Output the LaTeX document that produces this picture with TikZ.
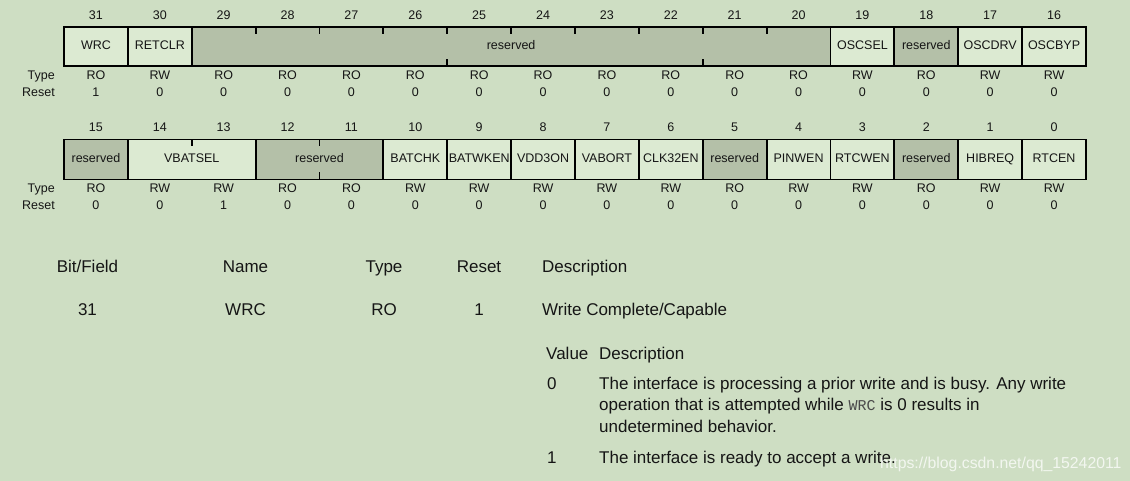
\documentclass[tikz,border=0pt]{standalone}
\usepackage{fontspec}
\setmainfont{Liberation Sans}
\setmonofont{Liberation Mono}
\usetikzlibrary{calc}
\definecolor{bg}{HTML}{CEDEC3}
\definecolor{cellfill}{HTML}{DCEAD2}
\definecolor{resfill}{HTML}{B4C0A8}
\definecolor{ink}{HTML}{151515}
\definecolor{monoink}{HTML}{4A4A4A}
\newcommand\regfont{\fontsize{12.5}{14}\selectfont}
\newcommand\tblfont{\fontsize{17}{20}\selectfont}
\tikzset{
  field/.style={draw=black, line width=1.8pt, inner sep=0pt, outer sep=0pt,
    minimum height=39pt, text height=9pt, text depth=3pt, font=\regfont, text=ink, anchor=north west},
  regtick/.style={line width=1.8pt},
  lbl/.style={inner sep=0pt, anchor=base, font=\regfont, text=ink},
  lblR/.style={lbl, anchor=base east},
  tbl/.style={inner sep=0pt, anchor=base, font=\tblfont, text=ink},
  tblL/.style={tbl, anchor=base west},
  wmark/.style={inner sep=0pt, anchor=base west, font=\fontsize{15.8}{18}\selectfont, text=white, opacity=0.75}
}
\begin{document}
\begin{tikzpicture}[x=1pt,y=-1pt]
\fill[bg] (0,0) rectangle (1130,481);
\useasboundingbox (0,0) rectangle (1130,481);
% ---------- row 1 (bits 31..16)
\foreach \nm/\hi/\lo/\txt/\fc in {f31/31/31/WRC/cellfill, f30/30/30/RETCLR/cellfill,
  f29/29/20/reserved/resfill, f19/19/19/OSCSEL/cellfill, f18/18/18/reserved/resfill,
  f17/17/17/OSCDRV/cellfill, f16/16/16/OSCBYP/cellfill}
{
  \pgfmathsetmacro\fx{64+(31-\hi)*63.875}
  \pgfmathsetmacro\fw{(\hi-\lo+1)*63.875}
  \node[field, fill=\fc, minimum width=\fw pt] (\nm) at (\fx,27) {\txt};
}
\foreach \k in {1,...,9} \draw[regtick] ($(f29.north west)+(\k*63.875,0)$) -- ++(0,7);
\foreach \k in {4,8} \draw[regtick] ($(f29.south west)+(\k*63.875,0)$) -- ++(0,-7);
\foreach \b [count=\i from 0] in {31,30,29,28,27,26,25,24,23,22,21,20,19,18,17,16}
  \node[lbl] (n\b) at ({64+(\i+0.5)*63.875},19.3) {\b};
\node[lblR] (typeA) at (55,80) {Type};
\node[lblR] (resetA) at (55,96.5) {Reset};
\foreach \t [count=\i from 0] in {RO,RW,RO,RO,RO,RO,RO,RO,RO,RO,RO,RO,RW,RO,RW,RW}
  \node[lbl] (ta\i) at ({64+(\i+0.5)*63.875},80) {\t};
\foreach \r [count=\i from 0] in {1,0,0,0,0,0,0,0,0,0,0,0,0,0,0,0}
  \node[lbl] (ra\i) at ({64+(\i+0.5)*63.875},96.5) {\r};
% ---------- row 2 (bits 15..0)
\foreach \nm/\hi/\lo/\txt/\fc in {g15/15/15/reserved/resfill, g14/14/13/VBATSEL/cellfill,
  g12/12/11/reserved/resfill, g10/10/10/BATCHK/cellfill, g9/9/9/BATWKEN/cellfill,
  g8/8/8/VDD3ON/cellfill, g7/7/7/VABORT/cellfill, g6/6/6/CLK32EN/cellfill,
  g5/5/5/reserved/resfill, g4/4/4/PINWEN/cellfill, g3/3/3/RTCWEN/cellfill,
  g2/2/2/reserved/resfill, g1/1/1/HIBREQ/cellfill, g0/0/0/RTCEN/cellfill}
{
  \pgfmathsetmacro\fx{64+(15-\hi)*63.875}
  \pgfmathsetmacro\fw{(\hi-\lo+1)*63.875}
  \node[field, fill=\fc, minimum width=\fw pt, minimum height=40pt] (\nm) at (\fx,139.5) {\txt};
}
\draw[regtick] ($(g14.north west)+(63.875,0)$) -- ++(0,7);
\draw[regtick] ($(g12.north west)+(63.875,0)$) -- ++(0,7);
\draw[regtick] ($(g12.south west)+(63.875,0)$) -- ++(0,-7);
\foreach \b [count=\i from 0] in {15,14,13,12,11,10,9,8,7,6,5,4,3,2,1,0}
  \node[lbl] (m\b) at ({64+(\i+0.5)*63.875},131.5) {\b};
\node[lblR] (typeB) at (55,193) {Type};
\node[lblR] (resetB) at (55,209.5) {Reset};
\foreach \t [count=\i from 0] in {RO,RW,RW,RO,RO,RW,RW,RW,RW,RW,RO,RW,RW,RO,RW,RW}
  \node[lbl] (tb\i) at ({64+(\i+0.5)*63.875},193) {\t};
\foreach \r [count=\i from 0] in {0,0,1,0,0,0,0,0,0,0,0,0,0,0,0,0}
  \node[lbl] (rb\i) at ({64+(\i+0.5)*63.875},209.5) {\r};
% ---------- table
\node[tbl] (hBit) at (87.5,272.5) {Bit/Field};
\node[tbl] (hName) at (245.5,272.5) {Name};
\node[tbl] (hType) at (384,272.5) {Type};
\node[tbl] (hReset) at (479,272.5) {Reset};
\node[tblL] (hDesc) at (542,272.5) {Description};
\node[tbl] (vBit) at (87.5,315) {31};
\node[tbl] (vName) at (245.5,315) {WRC};
\node[tbl] (vType) at (384,315) {RO};
\node[tbl] (vReset) at (479,315) {1};
\node[tblL] (vDesc) at (542,315) {Write Complete/Capable};
\node[tblL] (sValue) at (546,359) {Value};
\node[tblL] (sDesc) at (599,359) {Description};
\node[tblL] (s0) at (547,389) {0};
\node[tblL] (s0a) at (599,389) {The interface is processing a prior write and is busy. Any write};
\node[tblL] (s0b) at (599,410.5) {operation that is attempted while {\ttfamily\fontsize{15}{18}\selectfont\color{monoink}WRC} is 0 results in};
\node[tblL] (s0c) at (599,432) {undetermined behavior.};
\node[tblL] (s1) at (547,463) {1};
\node[tblL] (s1a) at (599,463) {The interface is ready to accept a write.};
\node[wmark] (wm) at (880,468) {https://blog.csdn.net/qq\_15242011};
\end{tikzpicture}
\end{document}
